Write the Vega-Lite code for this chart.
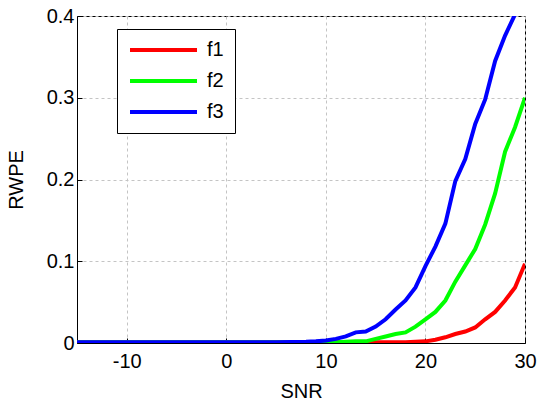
{
  "$schema": "https://vega.github.io/schema/vega-lite/v6.json",
  "autosize": {"type": "none"},
  "padding": {"left": 77, "top": 16, "right": 25, "bottom": 68},
  "width": 448,
  "height": 327,
  "background": "white",
  "config": {
    "view": {"stroke": "black", "strokeWidth": 1},
    "font": "Liberation Sans",
    "axis": {
      "labelFont": "Liberation Sans",
      "titleFont": "Liberation Sans",
      "labelFontSize": 20,
      "titleFontSize": 20,
      "titleFontWeight": "normal",
      "labelColor": "black",
      "titleColor": "black",
      "domainColor": "black",
      "tickColor": "black",
      "gridColor": "#c4c4c4",
      "gridDash": [3, 3],
      "gridWidth": 1,
      "labelFlush": false,
      "labelOverlap": false
    }
  },
  "data": {
    "values": [
      {"SNR": -15, "s": "f1", "v": 0.001}, {"SNR": -10, "s": "f1", "v": 0.001}, {"SNR": -5, "s": "f1", "v": 0.001}, {"SNR": 0, "s": "f1", "v": 0.001}, {"SNR": 5, "s": "f1", "v": 0.001}, {"SNR": 10, "s": "f1", "v": 0.001}, {"SNR": 15, "s": "f1", "v": 0.001}, {"SNR": 18, "s": "f1", "v": 0.001}, {"SNR": 19, "s": "f1", "v": 0.0015},
      {"SNR": 20, "s": "f1", "v": 0.002}, {"SNR": 21, "s": "f1", "v": 0.004}, {"SNR": 22, "s": "f1", "v": 0.007}, {"SNR": 23, "s": "f1", "v": 0.011}, {"SNR": 24, "s": "f1", "v": 0.014}, {"SNR": 25, "s": "f1", "v": 0.019}, {"SNR": 26, "s": "f1", "v": 0.029}, {"SNR": 27, "s": "f1", "v": 0.038}, {"SNR": 28, "s": "f1", "v": 0.052}, {"SNR": 29, "s": "f1", "v": 0.068}, {"SNR": 30, "s": "f1", "v": 0.097},
      {"SNR": -15, "s": "f2", "v": 0.001}, {"SNR": -10, "s": "f2", "v": 0.001}, {"SNR": -5, "s": "f2", "v": 0.001}, {"SNR": 0, "s": "f2", "v": 0.001}, {"SNR": 5, "s": "f2", "v": 0.001}, {"SNR": 10, "s": "f2", "v": 0.001}, {"SNR": 11, "s": "f2", "v": 0.001}, {"SNR": 12, "s": "f2", "v": 0.0015}, {"SNR": 13, "s": "f2", "v": 0.002}, {"SNR": 14, "s": "f2", "v": 0.002},
      {"SNR": 15, "s": "f2", "v": 0.005}, {"SNR": 16, "s": "f2", "v": 0.008}, {"SNR": 17, "s": "f2", "v": 0.011}, {"SNR": 18, "s": "f2", "v": 0.013}, {"SNR": 19, "s": "f2", "v": 0.02}, {"SNR": 20, "s": "f2", "v": 0.029}, {"SNR": 21, "s": "f2", "v": 0.038}, {"SNR": 22, "s": "f2", "v": 0.052}, {"SNR": 23, "s": "f2", "v": 0.075}, {"SNR": 24, "s": "f2", "v": 0.095}, {"SNR": 25, "s": "f2", "v": 0.115}, {"SNR": 26, "s": "f2", "v": 0.145}, {"SNR": 27, "s": "f2", "v": 0.183}, {"SNR": 28, "s": "f2", "v": 0.234}, {"SNR": 29, "s": "f2", "v": 0.264}, {"SNR": 30, "s": "f2", "v": 0.3},
      {"SNR": -15, "s": "f3", "v": 0.001}, {"SNR": -10, "s": "f3", "v": 0.001}, {"SNR": -5, "s": "f3", "v": 0.001}, {"SNR": 0, "s": "f3", "v": 0.001}, {"SNR": 5, "s": "f3", "v": 0.001}, {"SNR": 8, "s": "f3", "v": 0.0015}, {"SNR": 9, "s": "f3", "v": 0.002},
      {"SNR": 10, "s": "f3", "v": 0.003}, {"SNR": 11, "s": "f3", "v": 0.005}, {"SNR": 12, "s": "f3", "v": 0.008}, {"SNR": 13, "s": "f3", "v": 0.013}, {"SNR": 14, "s": "f3", "v": 0.014}, {"SNR": 15, "s": "f3", "v": 0.02}, {"SNR": 16, "s": "f3", "v": 0.029}, {"SNR": 17, "s": "f3", "v": 0.041}, {"SNR": 18, "s": "f3", "v": 0.052}, {"SNR": 19, "s": "f3", "v": 0.068}, {"SNR": 20, "s": "f3", "v": 0.094}, {"SNR": 21, "s": "f3", "v": 0.118}, {"SNR": 22, "s": "f3", "v": 0.146}, {"SNR": 23, "s": "f3", "v": 0.198}, {"SNR": 24, "s": "f3", "v": 0.225}, {"SNR": 25, "s": "f3", "v": 0.268}, {"SNR": 26, "s": "f3", "v": 0.298}, {"SNR": 27, "s": "f3", "v": 0.345}, {"SNR": 28, "s": "f3", "v": 0.376}, {"SNR": 29, "s": "f3", "v": 0.402}, {"SNR": 30, "s": "f3", "v": 0.43}
    ]
  },
  "mark": {"type": "line", "strokeWidth": 4, "clip": true},
  "encoding": {
    "x": {
      "field": "SNR", "type": "quantitative", "title": "SNR",
      "scale": {"domain": [-15, 30], "nice": false, "zero": false},
      "axis": {"values": [-10, 0, 10, 20, 30], "labelExpr": "replace(datum.label, '\u2212', '-')", "tickSize": -5, "labelPadding": 13, "titlePadding": 10}
    },
    "y": {
      "field": "v", "type": "quantitative", "title": "RWPE",
      "scale": {"domain": [0, 0.4], "nice": false},
      "axis": {"values": [0, 0.1, 0.2, 0.3, 0.4], "format": ".1~f", "tickSize": -5, "labelPadding": 8, "titlePadding": 20}
    },
    "color": {
      "field": "s", "type": "nominal",
      "scale": {"domain": ["f1", "f2", "f3"], "range": ["#ff0000", "#00ff00", "#0000ff"]},
      "legend": {
        "title": null, "orient": "none", "legendX": 40, "legendY": 13,
        "fillColor": "white", "strokeColor": "black", "padding": 11,
        "symbolType": "stroke", "symbolSize": 4489, "symbolStrokeWidth": 4,
        "labelFontSize": 20, "labelFont": "Liberation Sans", "labelColor": "black",
        "labelOffset": 8, "rowPadding": 11, "clipHeight": 20
      }
    }
  }
}
